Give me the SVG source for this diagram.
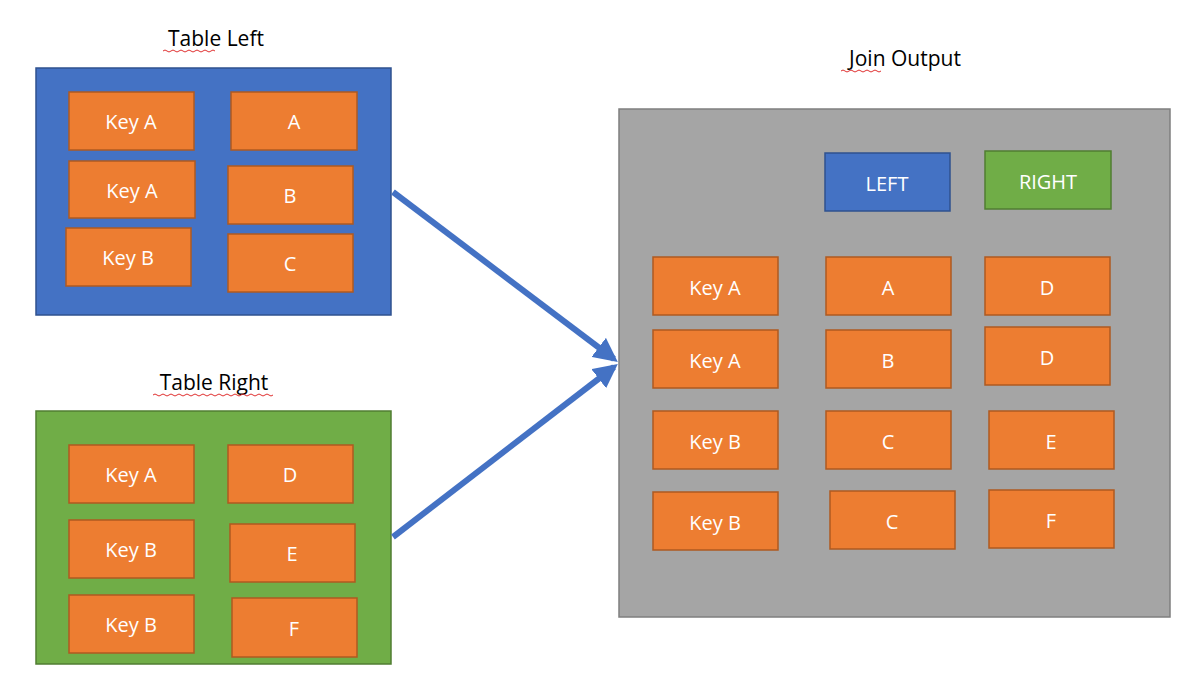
<svg xmlns="http://www.w3.org/2000/svg" width="1201" height="690" viewBox="0 0 1201 690">
<style>
.o{fill:#ED7D31;stroke:#AE5A21;stroke-width:1.5}
.t{font-family:"Open Sans","Liberation Sans",sans-serif;font-size:20px;fill:#fff;text-anchor:middle;dominant-baseline:central}
.h{font-family:"Open Sans","Liberation Sans",sans-serif;font-size:21px;fill:#000;text-anchor:middle}
.sq{fill:none;stroke:#E03030;stroke-width:1}
</style>
<defs>
<marker id="ah" viewBox="0 0 10 10" refX="8" refY="5" markerWidth="4" markerHeight="4" orient="auto"><path d="M0,0L10,5L0,10z" fill="#4472C4"/></marker>
</defs>
<rect width="1201" height="690" fill="#fff"/>
<g id="tableLeft">
<rect x="36" y="68" width="355" height="247" fill="#4472C4" stroke="#2F528F" stroke-width="1.5"/>
<text class="h" x="216" y="46">Table Left</text>
<path class="sq" d="M163,51 q2,-2 4,0 t4,0 t4,0 t4,0 t4,0 t4,0 t4,0 t4,0 t4,0 t4,0 t4,0 t4,0 t4,0"/>
<rect class="o" x="69" y="92" width="125" height="58"/><text class="t" x="131" y="121">Key A</text>
<rect class="o" x="231" y="92" width="126" height="58"/><text class="t" x="294" y="121">A</text>
<rect class="o" x="69" y="161" width="126" height="57"/><text class="t" x="132" y="190">Key A</text>
<rect class="o" x="228" y="166" width="125" height="58"/><text class="t" x="290" y="195">B</text>
<rect class="o" x="66" y="228" width="125" height="58"/><text class="t" x="128" y="257">Key B</text>
<rect class="o" x="228" y="234" width="125" height="58"/><text class="t" x="290" y="263">C</text>
</g>
<g id="tableRight">
<rect x="36" y="411" width="355" height="253" fill="#70AD47" stroke="#507E32" stroke-width="1.5"/>
<text class="h" x="214" y="390">Table Right</text>
<path class="sq" d="M153,395 q2,-2 4,0 t4,0 t4,0 t4,0 t4,0 t4,0 t4,0 t4,0 t4,0 t4,0 t4,0 t4,0 t4,0 t4,0 t4,0 t4,0 t4,0 t4,0 t4,0 t4,0 t4,0 t4,0 t4,0 t4,0 t4,0 t4,0 t4,0 t4,0 t4,0 t4,0"/>
<rect class="o" x="69" y="445" width="125" height="58"/><text class="t" x="131" y="474">Key A</text>
<rect class="o" x="228" y="445" width="125" height="58"/><text class="t" x="290" y="474">D</text>
<rect class="o" x="69" y="520" width="125" height="58"/><text class="t" x="131" y="549">Key B</text>
<rect class="o" x="230" y="524" width="125" height="58"/><text class="t" x="292" y="553">E</text>
<rect class="o" x="69" y="595" width="125" height="58"/><text class="t" x="131" y="624">Key B</text>
<rect class="o" x="232" y="598" width="125" height="59"/><text class="t" x="294" y="628">F</text>
</g>
<g id="joinOutput">
<rect x="619" y="109" width="551" height="508" fill="#A5A5A5" stroke="#7F7F7F" stroke-width="1.5"/>
<text class="h" x="905" y="66">Join Output</text>
<path class="sq" d="M841,71 q2,-2 4,0 t4,0 t4,0 t4,0 t4,0 t4,0 t4,0 t4,0 t4,0 t4,0"/>
<rect x="825" y="153" width="125" height="58" fill="#4472C4" stroke="#2F528F" stroke-width="1.5"/><text class="t" x="887" y="183">LEFT</text>
<rect x="985" y="151" width="126" height="58" fill="#70AD47" stroke="#507E32" stroke-width="1.5"/><text class="t" x="1048" y="181">RIGHT</text>
<rect class="o" x="653" y="257" width="125" height="58"/><text class="t" x="715" y="287">Key A</text>
<rect class="o" x="826" y="257" width="125" height="58"/><text class="t" x="888" y="287">A</text>
<rect class="o" x="985" y="257" width="125" height="58"/><text class="t" x="1047" y="287">D</text>
<rect class="o" x="653" y="330" width="125" height="58"/><text class="t" x="715" y="360">Key A</text>
<rect class="o" x="826" y="330" width="125" height="58"/><text class="t" x="888" y="360">B</text>
<rect class="o" x="985" y="327" width="125" height="58"/><text class="t" x="1047" y="357">D</text>
<rect class="o" x="653" y="411" width="125" height="58"/><text class="t" x="715" y="441">Key B</text>
<rect class="o" x="826" y="411" width="125" height="58"/><text class="t" x="888" y="441">C</text>
<rect class="o" x="989" y="411" width="125" height="58"/><text class="t" x="1051" y="441">E</text>
<rect class="o" x="653" y="492" width="125" height="58"/><text class="t" x="715" y="522">Key B</text>
<rect class="o" x="830" y="491" width="125" height="58"/><text class="t" x="892" y="521">C</text>
<rect class="o" x="989" y="490" width="125" height="58"/><text class="t" x="1051" y="520">F</text>
</g>
<g id="connectors" stroke="#4472C4" stroke-width="6" fill="none">
<line x1="393" y1="192" x2="614" y2="359" marker-end="url(#ah)"/>
<line x1="393" y1="537" x2="614" y2="367" marker-end="url(#ah)"/>
</g>
</svg>
